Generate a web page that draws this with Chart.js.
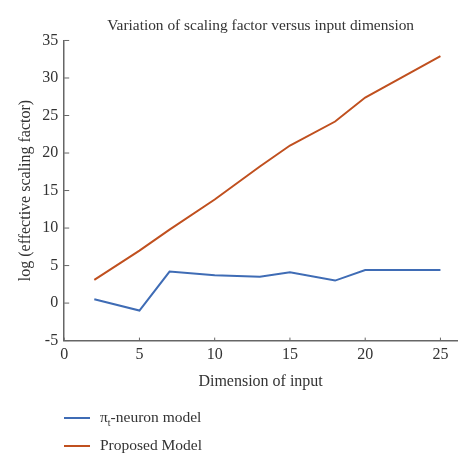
<!DOCTYPE html>
<html>
<head>
<meta charset="utf-8">
<script src="https://cdn.jsdelivr.net/npm/chart.js@4.4.0/dist/chart.umd.min.js"></script>
<style>
  body { margin: 0; background: #fff; }
  #wrap { position: relative; width: 474px; height: 470px; }
  #legend { position: absolute; left: 64px; top: 403px; font-family: "Liberation Serif", serif; font-size: 15.5px; color: #333; }
  #legend div { height: 28px; line-height: 28px; }
  #legend span.sw { display: inline-block; width: 26px; height: 2px; vertical-align: middle; margin-right: 10px; }
  #legend sub { font-size: 10px; }
</style>
</head>
<body>
<div id="wrap">
  <canvas id="chart" width="474" height="470"></canvas>
  <div id="legend"></div>
</div>
<script>
const dims = [2, 5, 7, 10, 13, 15, 18, 20, 25];
const neuronModel = [0.5, -1.0, 4.2, 3.7, 3.5, 4.1, 3.0, 4.4, 4.4];
const proposedModel = [3.1, 7.0, 9.8, 13.8, 18.2, 21.0, 24.2, 27.4, 32.9];
const seriesNames = ['\u03c0<sub>t</sub>-neuron model', 'Proposed Model'];
const seriesColors = ['#3f6cb5', '#c0501f'];

const serif = "'Liberation Serif', serif";
const axisColor = '#666';
const toPoints = vals => vals.map((v, i) => ({ x: dims[i], y: v }));

document.getElementById('legend').innerHTML = seriesNames.map((n, i) =>
    '<div><span class="sw" style="background:' + seriesColors[i] + '"></span>' + n + '</div>'
).join('');

// short tick marks pointing into the plot, like the original figure
const innerTicks = {
    id: 'innerTicks',
    afterDraw(chart) {
        const c = chart.ctx;
        const xs = chart.scales.x, ys = chart.scales.y;
        const area = chart.chartArea;
        c.save();
        c.strokeStyle = axisColor;
        c.lineWidth = 1;
        c.beginPath();
        xs.ticks.forEach(t => {
            const px = xs.getPixelForValue(t.value);
            c.moveTo(px, area.bottom);
            c.lineTo(px, area.bottom - 3);
        });
        ys.ticks.forEach(t => {
            const py = ys.getPixelForValue(t.value);
            c.moveTo(area.left, py);
            c.lineTo(area.left + 5, py);
        });
        c.stroke();
        c.restore();
    }
};

const ctx = document.getElementById('chart').getContext('2d');
new Chart(ctx, {
    type: 'line',
    data: {
        datasets: [{
            label: 'neuron',
            data: toPoints(neuronModel),
            borderColor: seriesColors[0],
            borderWidth: 2,
            pointRadius: 0,
            tension: 0
        }, {
            label: 'proposed',
            data: toPoints(proposedModel),
            borderColor: seriesColors[1],
            borderWidth: 2,
            pointRadius: 0,
            tension: 0
        }]
    },
    options: {
        responsive: false,
        animation: false,
        layout: { padding: { top: 4, right: 17, bottom: 75, left: 12 } },
        plugins: {
            legend: { display: false },
            tooltip: { enabled: false },
            title: {
                display: true,
                fullSize: false,
                text: 'Variation of scaling factor versus input dimension',
                color: '#333',
                font: { family: serif, size: 15.4, weight: 'normal' },
                padding: { top: 13, bottom: 5 }
            }
        },
        scales: {
            x: {
                type: 'linear',
                min: 0,
                max: 26.1,
                ticks: { stepSize: 5, includeBounds: false, color: '#333', font: { family: serif, size: 16 }, padding: 5 },
                grid: { drawOnChartArea: false, drawTicks: false },
                border: { color: axisColor, width: 1.5 },
                title: { display: true, text: 'Dimension of input', color: '#333', font: { family: serif, size: 16 }, padding: { top: 2 } }
            },
            y: {
                min: -5,
                max: 35,
                ticks: { stepSize: 5, color: '#333', font: { family: serif, size: 16 }, padding: 6 },
                grid: { drawOnChartArea: false, drawTicks: false },
                border: { color: axisColor, width: 1.5 },
                title: { display: true, text: 'log (effective scaling factor)', color: '#333', font: { family: serif, size: 16 }, padding: { bottom: 1 } }
            }
        }
    },
    plugins: [innerTicks]
});
</script>
</body>
</html>
